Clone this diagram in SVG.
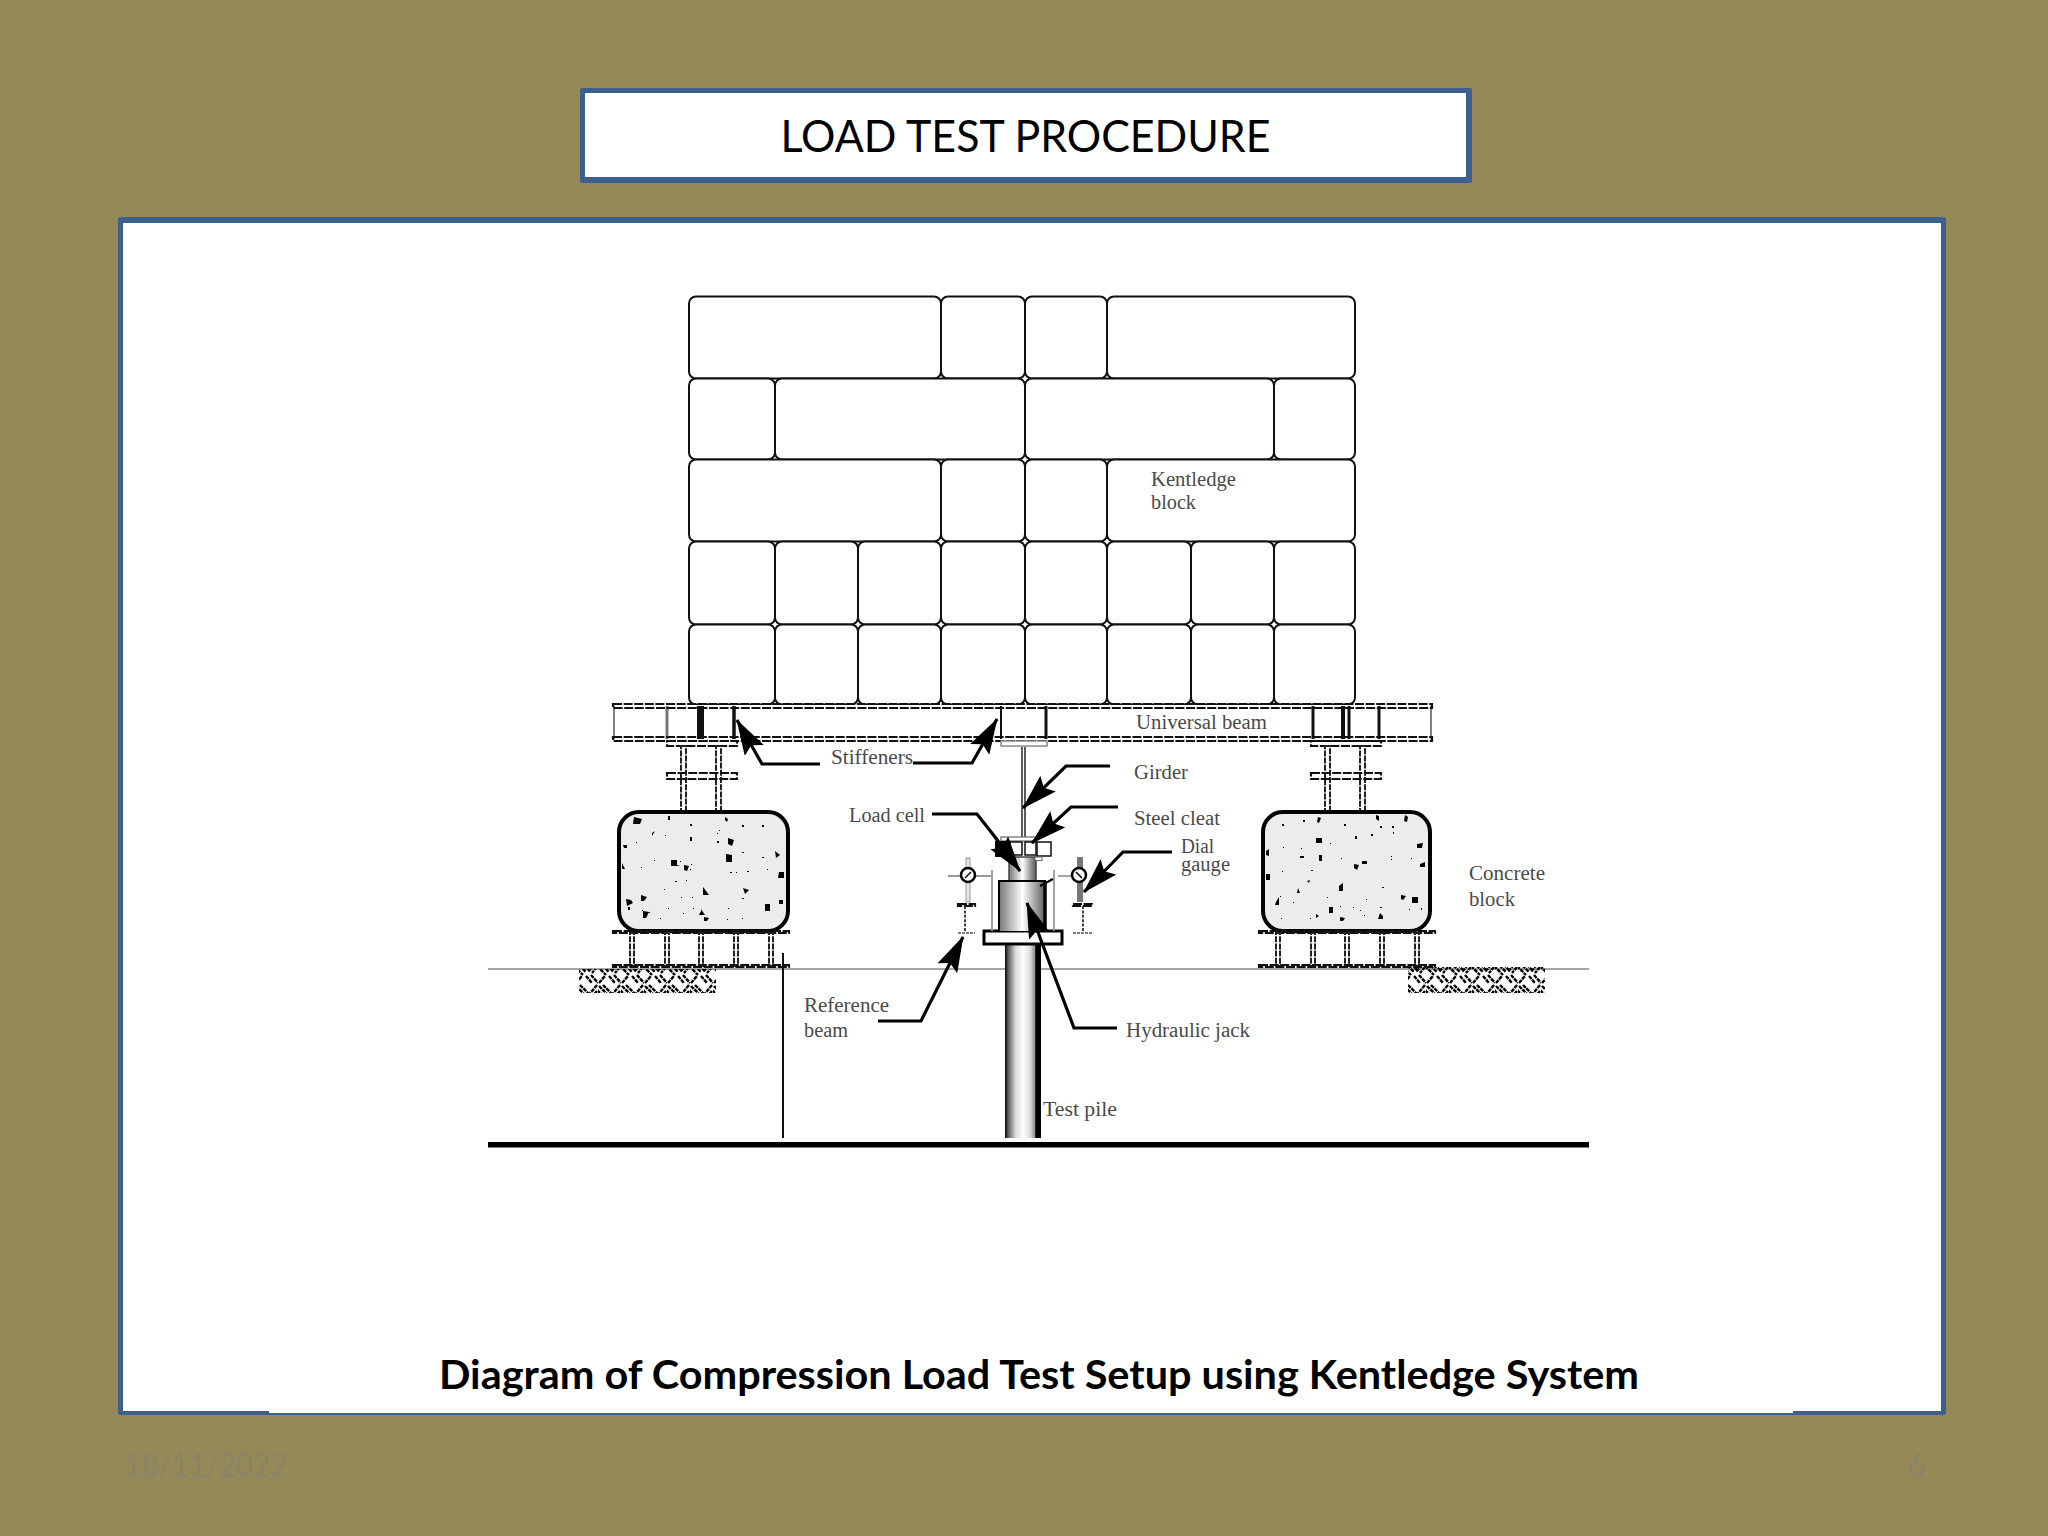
<svg xmlns="http://www.w3.org/2000/svg" xmlns:xlink="http://www.w3.org/1999/xlink" width="2048" height="1536" viewBox="0 0 2048 1536">
<style>
.frame{fill:#3d5f8e}
.blk{fill:#fff;stroke:#111;stroke-width:2}
.lbl{font-family:"Liberation Serif",serif;font-size:20px;fill:#4a4a4a}
.flange{fill:none;stroke:#111;stroke-width:2.2;stroke-dasharray:9 1.6}
.stem{fill:#fff;stroke:#222;stroke-width:2;stroke-dasharray:6 1.2}
.st{fill:none;stroke:#111}
.g{fill:none;stroke:#999;stroke-width:1.8}
.lead{fill:none;stroke:#000;stroke-width:3.2}
.conc{fill:#ececec;stroke:#000;stroke-width:4}
.foot{font-family:Lato,"Liberation Sans",sans-serif;font-size:32px;fill:#8a8568}
</style>
<defs>
<linearGradient id="cyl" x1="0" x2="1" y1="0" y2="0">
<stop offset="0" stop-color="#777"/><stop offset=".5" stop-color="#fff"/><stop offset="1" stop-color="#555"/>
</linearGradient>
<linearGradient id="pile" x1="0" x2="1" y1="0" y2="0">
<stop offset="0" stop-color="#000"/><stop offset=".08" stop-color="#555"/><stop offset=".3" stop-color="#ddd"/><stop offset=".5" stop-color="#fff"/><stop offset=".7" stop-color="#ddd"/><stop offset=".84" stop-color="#888"/><stop offset=".85" stop-color="#000"/><stop offset="1" stop-color="#000"/>
</linearGradient>
<pattern id="hatch" width="23" height="24" patternUnits="userSpaceOnUse">
<path d="M1 2L11 12M5 1L15 11M-1 6L8 15M22 1L13 12M22 7L17 13M1 23L7 16M11 16L17 23M16 15L23 23" fill="none" stroke="#000" stroke-width="2.4" stroke-dasharray="4 .8"/>
</pattern>
<marker id="ah" markerWidth="40" markerHeight="24" refX="35" refY="11" orient="auto" markerUnits="userSpaceOnUse">
<path d="M36 11L0 0L6 11L0 22Z" fill="#000"/>
</marker>
<g id="pier">
<rect class="flange" x="0" y="0" width="70" height="5"/>
<rect class="stem" x="14" y="5" width="5" height="65"/>
<rect class="stem" x="49" y="5" width="5" height="65"/>
<rect class="flange" x="0" y="32" width="70" height="6" fill="#fff"/>
</g>
<g id="legs">
<rect class="flange" x="0" y="0" width="176" height="2"/>
<g class="stem"><rect x="17" y="2" width="4" height="33"/><rect x="52" y="2" width="4" height="33"/><rect x="86" y="2" width="4" height="33"/><rect x="121" y="2" width="4" height="33"/><rect x="156" y="2" width="4" height="33"/></g>
<rect class="flange" x="0" y="34" width="176" height="2"/>
</g>
</defs>

<rect width="2048" height="1536" fill="#958a57"/>

<g id="title">
<rect class="frame" x="580" y="88" width="892" height="95" rx="2"/>
<rect x="585" y="93" width="881" height="84" fill="#fff"/>
<text x="1025.5" y="152" text-anchor="middle" textLength="490" lengthAdjust="spacingAndGlyphs" font-family="Lato,'Liberation Sans',sans-serif" font-size="44" fill="#000">LOAD TEST PROCEDURE</text>
</g>

<g id="panel">
<rect class="frame" x="118" y="217" width="1828" height="1198" rx="2"/>
<rect x="123" y="223" width="1818" height="1188" fill="#fff"/>
<rect x="269" y="1405" width="1524" height="8" fill="#fff"/>
</g>

<g id="kentledge">
<g transform="translate(1 .5)">
<rect class="blk" x="688" y="296" width="252" height="82" rx="7"/><rect class="blk" x="940" y="296" width="84" height="82" rx="7"/><rect class="blk" x="1024" y="296" width="82" height="82" rx="7"/><rect class="blk" x="1106" y="296" width="248" height="82" rx="7"/>
<rect class="blk" x="688" y="378" width="86" height="81" rx="7"/><rect class="blk" x="774" y="378" width="250" height="81" rx="7"/><rect class="blk" x="1024" y="378" width="249" height="81" rx="7"/><rect class="blk" x="1273" y="378" width="81" height="81" rx="7"/>
<rect class="blk" x="688" y="459" width="252" height="82" rx="7"/><rect class="blk" x="940" y="459" width="84" height="82" rx="7"/><rect class="blk" x="1024" y="459" width="82" height="82" rx="7"/><rect class="blk" x="1106" y="459" width="248" height="82" rx="7"/>
<rect class="blk" x="688" y="541" width="86" height="83" rx="7"/><rect class="blk" x="774" y="541" width="83" height="83" rx="7"/><rect class="blk" x="857" y="541" width="83" height="83" rx="7"/><rect class="blk" x="940" y="541" width="84" height="83" rx="7"/><rect class="blk" x="1024" y="541" width="82" height="83" rx="7"/><rect class="blk" x="1106" y="541" width="84" height="83" rx="7"/><rect class="blk" x="1190" y="541" width="83" height="83" rx="7"/><rect class="blk" x="1273" y="541" width="81" height="83" rx="7"/>
<rect class="blk" x="688" y="624" width="86" height="80" rx="7"/><rect class="blk" x="774" y="624" width="83" height="80" rx="7"/><rect class="blk" x="857" y="624" width="83" height="80" rx="7"/><rect class="blk" x="940" y="624" width="84" height="80" rx="7"/><rect class="blk" x="1024" y="624" width="82" height="80" rx="7"/><rect class="blk" x="1106" y="624" width="84" height="80" rx="7"/><rect class="blk" x="1190" y="624" width="83" height="80" rx="7"/><rect class="blk" x="1273" y="624" width="81" height="80" rx="7"/>
</g>
<text class="lbl" x="1151" y="486" textLength="85" lengthAdjust="spacingAndGlyphs">Kentledge</text>
<text class="lbl" x="1151" y="509" textLength="45" lengthAdjust="spacingAndGlyphs">block</text>
</g>

<g id="ground">
<line x1="488" y1="969" x2="1589" y2="969" stroke="#888" stroke-width="1.5"/>
<rect x="579" y="969" width="137" height="24" fill="url(#hatch)"/>
<rect x="1408" y="967" width="137" height="26" fill="url(#hatch)"/>
<line x1="783" y1="953" x2="783" y2="1138" stroke="#111" stroke-width="2"/>
<rect x="488" y="1142" width="1101" height="5.5" fill="#000"/>
</g>

<g id="beam">
<rect x="613" y="705" width="819" height="35" fill="#fff"/>
<line x1="614" y1="706" x2="614" y2="739" stroke="#555" stroke-width="1.5"/>
<line x1="1431" y1="706" x2="1431" y2="739" stroke="#555" stroke-width="1.5"/>
<g class="st">
<line x1="667" y1="706" x2="667" y2="739" stroke="#777" stroke-width="3"/>
<line x1="700.5" y1="706" x2="700.5" y2="739" stroke-width="7"/>
<line x1="734" y1="706" x2="734" y2="739" stroke-width="3.5"/>
<line x1="1001" y1="706" x2="1001" y2="739" stroke-width="2"/>
<line x1="1046" y1="706" x2="1046" y2="739" stroke-width="3"/>
<line x1="1313" y1="706" x2="1313" y2="739" stroke-width="3"/>
<line x1="1343" y1="706" x2="1343" y2="739" stroke-width="4"/>
<line x1="1349" y1="706" x2="1349" y2="739" stroke-width="3"/>
<line x1="1379" y1="706" x2="1379" y2="739" stroke-width="3"/>
</g>
<rect class="flange" x="613" y="704" width="819" height="4"/>
<rect class="flange" x="613" y="737" width="819" height="4"/>
<text class="lbl" x="1136" y="729" textLength="131" lengthAdjust="spacingAndGlyphs">Universal beam</text>
</g>

<g id="pier-left">
<use xlink:href="#pier" href="#pier" x="667" y="741"/>
<rect class="conc" x="619" y="812" width="169" height="119" rx="20"/>
<use xlink:href="#legs" href="#legs" x="613" y="931"/>
<path fill="#000" d="M634 817l8 2-2 5-7 0zM668 816h2v4h-2zM725 817l3 2-1 3-2-2zM728 838l6 2-2 6-4-2zM726 854l6 1 0 7-6 0zM671 860l6 0 0 5 3 1-9 0zM684 865l5 1-2 5-3-1zM623 845h4v3h-3zM622 863l3 6h-3zM775 851l5 4-4 3zM779 872h5v6h-6zM703 887l3 4 3 4-6 0zM743 888l6 2-4 4zM626 899l5 1 2 3-6 3zM641 895l6 2-3 4-3 0zM643 911l6 1-3 6-3 0zM765 904l5 0 0 7-5 0zM702 909l-1 0 4 6-6 0zM704 917l5 1-2 3-3 0zM779 900h4v4h-4zM628 907h2v3h-2zM652 833l3-2-3 5zM690 837h2v4h-2zM762 825h2v2h-2zM742 825h2v2h-2zM690 824h2v2h-2zM717 833h1v1h-1zM717 841h2v2h-2zM641 867h1v1h-1zM654 860h1v1h-1zM691 864h1v1h-1zM675 881h2v1h-2zM692 897h1v1h-1zM664 889h1v1h-1zM683 913h1v1h-1zM767 869h1v1h-1zM762 857h2v1h-2zM730 872h2v1h-2zM736 872h1v1h-1zM742 898h2v1h-2zM693 908h1v1h-1zM668 908h1v1h-1zM728 908h1v1h-1zM742 918h1v1h-1zM727 919h1v1h-1zM690 869h1v1h-1zM680 861h1v1h-1zM642 910h1v1h-1zM636 842h1v1h-1zM719 830h1v1h-1zM686 880h1v1h-1zM660 918h1v1h-1zM649 912h1v1h-1zM620 828h1v1h-1zM665 835h1v1h-1zM681 897h1v1h-1zM742 852h2v1h-2zM747 871h2v1h-2z"/>
</g>

<g id="pier-right">
<use xlink:href="#pier" href="#pier" x="1311" y="741"/>
<rect class="conc" x="1263" y="812" width="167" height="119" rx="20"/>
<use xlink:href="#legs" href="#legs" x="1259" y="931"/>
<path fill="#000" d="M1318 817l3 1-2 5-2-1zM1376 815l3 1 0 5-3-2zM1405 815l3 2-1 5-3-1zM1316 838l6 0 0 5-6 0zM1319 855l3 0 0 6-3 0zM1266 851l3-2 0 7-3-1zM1417 844l6-1-1 5-5 0zM1300 856h4v2h-4zM1362 861l5 0 0 3-5 0zM1354 864l5 1-2 5-3-2zM1339 886l4-3 0 8-4 0zM1298 888l2 5-3 0zM1276 902l3-5 0 8-4 0zM1401 895l5 1-3 4-2-1zM1412 897l6 0 0 6-6 0zM1329 907l4 0 0 6-4 0zM1316 914l3 2-3 2zM1340 917l5 1-2 3-3 0zM1380 913l3 3 0 3-5 0zM1420 864l5-2 0 5-5 0zM1266 874h4v6h-4zM1307 881l3-1-1 3zM1380 826h2v2h-2zM1344 824h2v2h-2zM1303 820h2v2h-2zM1282 824h2v2h-2zM1371 834h2v2h-2zM1392 826h2v2h-2zM1393 832h1v2h-1zM1355 836h2v3h-2zM1330 843h1v1h-1zM1283 847h1v1h-1zM1301 848h1v1h-1zM1341 858h1v1h-1zM1391 859h1v1h-1zM1311 870h2v1h-2zM1282 871h1v1h-1zM1382 887h2v1h-2zM1280 896h1v1h-1zM1293 902h1v1h-1zM1327 897h1v1h-1zM1366 899h1v1h-1zM1380 907h2v1h-2zM1310 918h1v1h-1zM1360 910h1v1h-1zM1353 907h1v1h-1zM1340 906h1v1h-1zM1364 915h1v1h-1zM1281 918h1v1h-1zM1421 908h1v2h-1zM1409 909h1v1h-1zM1391 856h1v1h-1zM1411 858h1v1h-1z"/>
</g>

<g id="test-pile">
<rect x="1005" y="944" width="36" height="194" fill="url(#pile)"/>
<rect x="984" y="931" width="78" height="13" fill="#fff" stroke="#000" stroke-width="3"/>
<rect x="1009" y="857" width="27" height="24" fill="url(#cyl)" stroke="#444" stroke-width="1.5"/>
<rect x="999" y="881" width="47" height="50" fill="url(#cyl)"/>
<path d="M999 931V881H1046" fill="none" stroke="#000" stroke-width="2"/>
<line x1="1045" y1="881" x2="1045" y2="931" stroke="#000" stroke-width="3.5"/>
<line x1="992" y1="870" x2="992" y2="931" class="g"/>
<line x1="1054" y1="870" x2="1054" y2="931" class="g"/>
</g>

<g id="load-cell">
<line x1="1022" y1="747" x2="1022" y2="837" stroke="#333" stroke-width="1.6"/>
<line x1="1025" y1="747" x2="1025" y2="837" stroke="#333" stroke-width="1.6"/>
<rect x="1001" y="741" width="46" height="5" fill="#fff" stroke="#888" stroke-width="1.5"/>
<rect x="1001" y="837" width="34" height="4" fill="#fff" stroke="#666" stroke-width="1.2"/>
<rect x="995" y="841" width="15" height="16" fill="#000"/>
<rect x="1010" y="842" width="12" height="13" fill="#fff" stroke="#111" stroke-width="1.5"/>
<rect x="1025" y="842" width="11" height="13" fill="#fff" stroke="#111" stroke-width="1.5"/>
<rect x="1037" y="842" width="14" height="14" fill="#fff" stroke="#111" stroke-width="1.5"/>
<rect x="1035" y="857" width="7" height="3.5" fill="#fff" stroke="#666" stroke-width="1"/>
</g>

<g id="gauge-left">
<line x1="948" y1="876" x2="991" y2="876" class="g"/>
<rect x="966" y="858" width="4" height="44" fill="#dfe8e8" stroke="#999" stroke-width="1"/>
<circle cx="968" cy="875" r="7" fill="#fff" stroke="#000" stroke-width="2.5"/>
<line x1="965" y1="878" x2="971" y2="872" stroke="#000" stroke-width="1.5"/>
<rect class="flange" x="958" y="904" width="17" height="2"/>
<line x1="965" y1="906" x2="965" y2="932" stroke="#333" stroke-width="1.8" stroke-dasharray="3 1.4"/>
<line x1="958" y1="933" x2="975" y2="933" stroke="#555" stroke-width="1.6" stroke-dasharray="3 1"/>
</g>
<g id="gauge-right">
<line x1="1058" y1="876" x2="1072" y2="876" class="g"/>
<rect x="1077" y="857" width="6" height="45" fill="#777"/>
<circle cx="1079" cy="875" r="7" fill="#fff" stroke="#000" stroke-width="2.5"/>
<line x1="1076" y1="872" x2="1082" y2="878" stroke="#000" stroke-width="1.5"/>
<rect class="flange" x="1073" y="904" width="19" height="2"/>
<line x1="1083" y1="906" x2="1083" y2="932" stroke="#333" stroke-width="1.8" stroke-dasharray="3 1.4"/>
<line x1="1073" y1="933" x2="1092" y2="933" stroke="#555" stroke-width="1.6" stroke-dasharray="3 1"/>
</g>

<g id="connectors">
<path class="lead" marker-end="url(#ah)" d="M820 764H762L737 720"/>
<path class="lead" marker-end="url(#ah)" d="M913 763H972L997 719"/>
<path class="lead" marker-end="url(#ah)" d="M1110 766H1066L1023 808"/>
<path class="lead" marker-end="url(#ah)" d="M1118 807H1071L1032 843"/>
<path class="lead" marker-end="url(#ah)" d="M932 814H977L995 837L1020 871"/>
<path class="lead" marker-end="url(#ah)" d="M1172 852H1123L1084 892"/>
<path class="lead" marker-end="url(#ah)" d="M878 1021H921L963 937"/>
<path class="lead" marker-end="url(#ah)" d="M1117 1028H1074L1027 903"/>
<path d="M1040 886L1053 879" stroke="#000" stroke-width="2" fill="none"/>
</g>

<g id="labels">
<text class="lbl" x="831" y="764" textLength="82" lengthAdjust="spacingAndGlyphs">Stiffeners</text>
<text class="lbl" x="849" y="822" textLength="76" lengthAdjust="spacingAndGlyphs">Load cell</text>
<text class="lbl" x="1134" y="779" textLength="54" lengthAdjust="spacingAndGlyphs">Girder</text>
<text class="lbl" x="1134" y="825" textLength="86" lengthAdjust="spacingAndGlyphs">Steel cleat</text>
<text class="lbl" x="1181" y="853" textLength="33" lengthAdjust="spacingAndGlyphs">Dial</text>
<text class="lbl" x="1181" y="871" textLength="49" lengthAdjust="spacingAndGlyphs">gauge</text>
<text class="lbl" x="1469" y="880" textLength="76" lengthAdjust="spacingAndGlyphs">Concrete</text>
<text class="lbl" x="1469" y="906" textLength="46" lengthAdjust="spacingAndGlyphs">block</text>
<text class="lbl" x="804" y="1012" textLength="85" lengthAdjust="spacingAndGlyphs">Reference</text>
<text class="lbl" x="804" y="1037" textLength="44" lengthAdjust="spacingAndGlyphs">beam</text>
<text class="lbl" x="1126" y="1037" textLength="124" lengthAdjust="spacingAndGlyphs">Hydraulic jack</text>
<text class="lbl" x="1043" y="1116" textLength="74" lengthAdjust="spacingAndGlyphs">Test pile</text>
</g>

<text id="caption" x="439" y="1388.5" textLength="1200" lengthAdjust="spacingAndGlyphs" font-family="Lato,'Liberation Sans',sans-serif" font-weight="700" font-size="41" fill="#000">Diagram of Compression Load Test Setup using Kentledge System</text>
<text class="foot" x="124" y="1477" textLength="163" lengthAdjust="spacingAndGlyphs">18/11/2022</text>
<text class="foot" x="1907" y="1477">6</text>
</svg>
